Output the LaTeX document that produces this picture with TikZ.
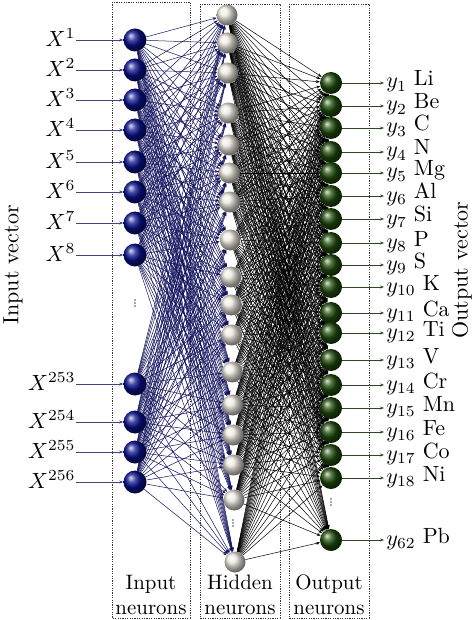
\documentclass[tikz,border=0pt]{standalone}
\usepackage{tikz}
\usepackage{amsmath}
\usetikzlibrary{calc, positioning, backgrounds, arrows.meta}

\definecolor{inblue}{RGB}{10,20,165}
\definecolor{inline}{RGB}{20,20,95}
\definecolor{hidgrey}{RGB}{238,234,224}
\definecolor{outgreen}{RGB}{30,75,10}
\definecolor{outline}{RGB}{45,70,35}

\begin{document}
\begin{tikzpicture}[x=1pt,y=-1pt,
                    lab/.style={font=\fontsize{10}{12}\selectfont,scale=2.2,transform shape,inner sep=0pt},
                    in node/.style={circle,shading=ball,ball color=inblue!85!black,minimum size=23pt,inner sep=0pt},
                    hid node/.style={circle,shading=ball,ball color=hidgrey,minimum size=21pt,inner sep=0pt},
                    out node/.style={circle,shading=ball,ball color=outgreen,minimum size=22pt,inner sep=0pt},
                    layer box/.style={draw=black!80,dash pattern=on 1.2pt off 1.2pt,line width=0.7pt},
                    in edge/.style={draw=inline,line width=0.5pt,-{Stealth[length=4pt,width=3pt]}},
                    out edge/.style={draw=black,line width=0.5pt,-{Stealth[length=4pt,width=3pt]}},
                    in arrow/.style={draw=inline!80,line width=0.8pt,-{Stealth[length=4pt,width=3pt]}},
                    out arrow/.style={draw=outline,line width=0.8pt,-{Stealth[length=4pt,width=3pt]}},
                    dot/.style={circle,fill=black!70,inner sep=0pt,minimum size=1.6pt}]

 \useasboundingbox (0,0) rectangle (474,620);

 % input layer
 \foreach \y/\n [count=\i] in {40/1,70/2,100/3,130/4,162/5,192/6,223/7,255/8,
                               384/253,422/254,452/255,482/256}
 {
  \node[in node] (in\i) at (135,\y) {};
  \node[lab,anchor=east] (lx\i) at (76,\y-2) {$X^{\n}$};
  \draw[in arrow] (lx\i.east |- in\i) -- (in\i);
 }
 \foreach \d in {-3,0,3}
  \node[dot] (indot) at (135,303+\d) {};

 % hidden layer
 \foreach \y [count=\i] in {15,43,73,113,145,173,202,240,277,305,335,372,405,435,465,500,562}
  \node[hid node] (h\i) at ({227+8*(\y-15)/547},\y) {};
 \foreach \d in {-3,0,3}
  \node[dot] (hdot) at (233,523+\d) {};

 % output layer
 \foreach \y/\n/\el [count=\i] in {83/1/Li,106/2/Be,128/3/C,152/4/N,173/5/Mg,196/6/Al,
                                   219/7/Si,243/8/P,265/9/S,287/10/K,313/11/Ca,333/12/Ti,
                                   360/13/V,385/14/Cr,408/15/Mn,432/16/Fe,455/17/Co,
                                   478/18/Ni,540/62/Pb}
 {
  \node[out node] (o\i) at (331,\y) {};
  \coordinate (t\i) at (384,\y);
  \draw[out arrow] (o\i) -- (t\i);
  \node[lab,anchor=base west] (yl\i) at (386,\y+5) {$y_{\n}$};
  \node[lab,anchor=base west] (el\i) at ($(yl\i.base east)+(6,-2)$) {\el};
 }
 \foreach \d in {-3,0,3}
  \node[dot] (odot) at (331,502+\d) {};

 % side and bottom labels
 \node[lab,rotate=90] (invec) at (13,265) {Input vector};
 \node[lab,rotate=90] (outvec) at (462,270) {Output vector};
 \node[lab,scale=0.95,align=center] (inlab) at (151,595) {Input\\neurons};
 \node[lab,scale=0.95,align=center] (hidlab) at (240,595) {Hidden\\neurons};
 \node[lab,scale=0.95,align=center] (outlab) at (329,595) {Output\\neurons};

 \begin{pgfonlayer}{background}
  \draw[layer box] (112,2) rectangle (190,618);
  \draw[layer box] (200,4) rectangle (280,618);
  \draw[layer box] (289,4) rectangle (369,618);
  \foreach \i in {1,...,12}
   \foreach \j in {1,...,17}
    \draw[in edge] (in\i) -- (h\j);
  \foreach \j in {1,...,17}
   \foreach \k in {1,...,19}
    \draw[out edge] (h\j) -- (o\k);
 \end{pgfonlayer}

\end{tikzpicture}
\end{document}
